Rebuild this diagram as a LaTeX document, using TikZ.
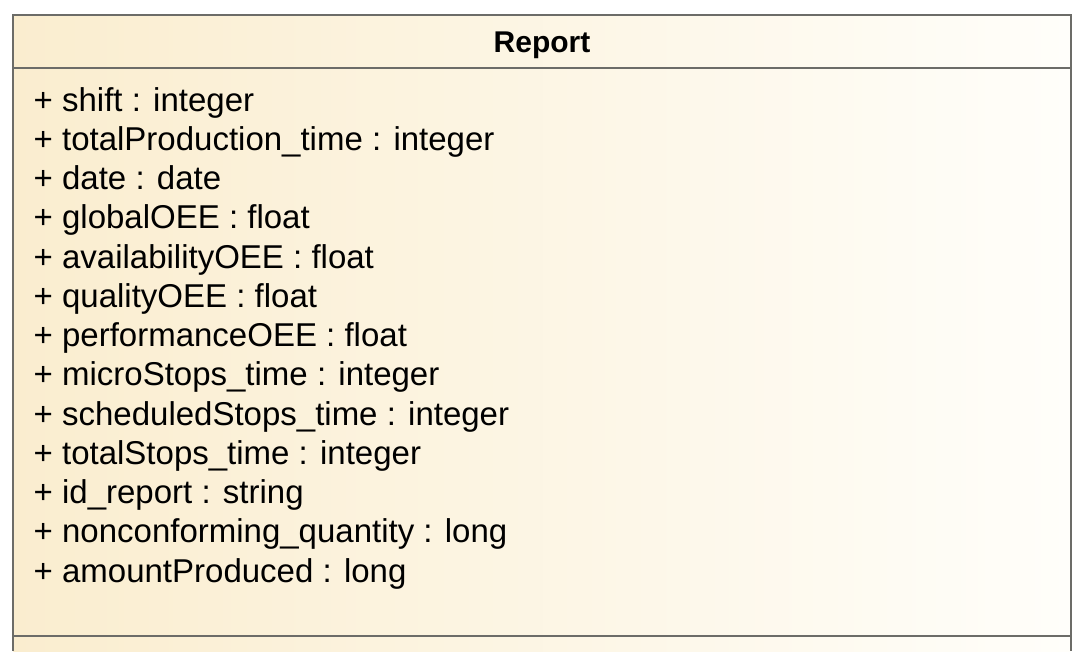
\documentclass[tikz,border=0pt]{standalone}
\usepackage{fontspec}
\setmainfont{Liberation Sans}
\definecolor{umlleft}{RGB}{250,237,207}
\definecolor{umlmid}{RGB}{253,247,233}
\definecolor{umlright}{RGB}{255,254,250}
\definecolor{umlline}{RGB}{108,108,104}

\begin{document}
\begin{tikzpicture}[x=1pt,y=-1pt,
    classline/.style={draw=umlline,line width=2pt},
    classname/.style={anchor=base,inner sep=0pt,font=\fontsize{30}{36}\selectfont\bfseries},
    attr/.style={anchor=base west,inner sep=0pt,font=\fontsize{33}{39}\selectfont}]
          %\draw[very thin,lightgray] (0,0) grid[step=50] (1091,651);
          \useasboundingbox (0,0) rectangle (1091,651);
          \shade[left color=umlleft,middle color=umlmid,right color=umlright]
          (13,15) rectangle (1071,651);
          \coordinate (nw) at (13,15);
          \coordinate (ne) at (1071,15);
          \coordinate (sw) at (13,651);
          \coordinate (se) at (1071,651);
          \draw[classline] (sw) -- (nw) -- (ne) -- (se);
          \draw[classline] (13,68) -- (1071,68);
          \draw[classline] (13,636) -- (1071,636);
          \node[classname] (title) at (542,52) {Report};
          \foreach \name [count=\i] in {shift : integer,
            totalProduction\_time : integer, date : date,
            globalOEE : float, availabilityOEE : float,
            qualityOEE : float, performanceOEE : float,
            microStops\_time : integer, scheduledStops\_time : integer,
            totalStops\_time : integer, id\_report : string,
            nonconforming\_quantity : long, amountProduced : long}
          \node[attr] (attr\i) at (33.5,{111+(\i-1)*39.25}) {+ \name};
        \end{tikzpicture}
\end{document}
